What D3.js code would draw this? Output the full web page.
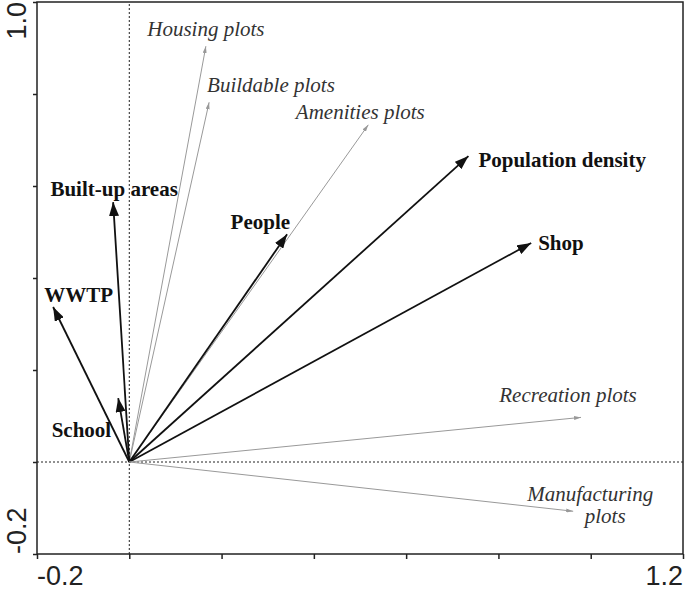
<!DOCTYPE html>
<html>
<head>
<meta charset="utf-8">
<script src="https://cdn.jsdelivr.net/npm/d3@7"></script>
<style>
  body { margin: 0; background: #fff; }
  svg { display: block; }
</style>
</head>
<body>
<svg id="biplot" width="685" height="590"></svg>
<script>
// arrow names, and their tip coordinates on the two ordination axes
const variables = ["Housing plots", "Buildable plots", "Amenities plots", "Population density", "Shop",
	"People", "Built-up areas", "WWTP", "School", "Recreation plots", "Manufacturing\nplots"];
const axis1 = [0.166, 0.173, 0.518, 0.735, 0.871, 0.342, -0.035, -0.165, -0.024, 0.979, 0.962];
const axis2 = [0.904, 0.782, 0.733, 0.665, 0.476, 0.495, 0.565, 0.337, 0.139, 0.097, -0.107];
// true = explanatory variable (bold black), false = land plot type (grey italic)
const explanatory = [false, false, false, true, true, true, true, true, true, false, false];
const xTicks = [-0.2, 0, 0.2, 0.4, 0.6, 0.8, 1.0, 1.2];
const yTicks = [-0.2, 0, 0.2, 0.4, 0.6, 0.8, 1.0];

// hand placement of labels round each arrow tip (px)
const labelPlace = {
	"Housing plots": [{ anchor: "middle", dx: 0, dy: -10 }],
	"Buildable plots": [{ anchor: "start", dx: -2, dy: -10 }],
	"Amenities plots": [{ anchor: "middle", dx: -8, dy: -6 }],
	"Population density": [{ anchor: "start", dx: 10, dy: 11 }],
	"Shop": [{ anchor: "start", dx: 7, dy: 7 }],
	"People": [{ anchor: "end", dx: 3, dy: -5 }],
	"Built-up areas": [{ anchor: "middle", dx: 1, dy: -6 }],
	"WWTP": [{ anchor: "start", dx: -9, dy: -5 }],
	"School": [{ anchor: "end", dx: -7, dy: 39 }],
	"Recreation plots": [{ anchor: "middle", dx: -13, dy: -15 }],
	"Manufacturing\nplots": [{ anchor: "middle", dx: 17, dy: -10 }, { anchor: "middle", dx: 32, dy: 12 }]
};

const svg = d3.select("svg#biplot");
const margin = { top: 2, right: 2, bottom: 36, left: 37 };
const width = +svg.attr("width");
const height = +svg.attr("height");

const x = d3.scaleLinear().domain([-0.2, 1.2]).range([margin.left, width - margin.right]);
const y = d3.scaleLinear().domain([-0.2, 1.0]).range([height - margin.bottom, margin.top]);

const defs = svg.append("defs");
function marker(id, len, wid, color) {
	defs.append("marker")
		.attr("id", id)
		.attr("markerUnits", "userSpaceOnUse")
		.attr("viewBox", `0 ${-wid / 2} ${len} ${wid}`)
		.attr("refX", len)
		.attr("refY", 0)
		.attr("markerWidth", len)
		.attr("markerHeight", wid)
		.attr("orient", "auto")
		.append("path")
		.attr("d", `M0,${-wid / 2}L${len},0L0,${wid / 2}Z`)
		.attr("fill", color);
}
marker("headBlack", 14, 10, "#111");
marker("headGrey", 7, 4, "#999");

// zero lines
svg.append("line")
	.attr("x1", x(0)).attr("x2", x(0))
	.attr("y1", y(-0.2)).attr("y2", y(1.0))
	.attr("stroke", "#222").attr("stroke-width", 1).attr("stroke-dasharray", "2,2");
svg.append("line")
	.attr("x1", x(-0.2)).attr("x2", x(1.2))
	.attr("y1", y(0)).attr("y2", y(0))
	.attr("stroke", "#222").attr("stroke-width", 1).attr("stroke-dasharray", "2,2");

// axes (ticks only, end labels drawn separately)
svg.append("g")
	.attr("transform", `translate(0,${y(-0.2)})`)
	.call(d3.axisBottom(x).tickValues(xTicks).tickSize(5).tickFormat(""))
	.call(g => g.select(".domain").remove())
	.selectAll("line").attr("stroke", "#222").attr("stroke-width", 1.5);
svg.append("g")
	.attr("transform", `translate(${x(-0.2)},0)`)
	.call(d3.axisLeft(y).tickValues(yTicks).tickSize(4).tickFormat(""))
	.call(g => g.select(".domain").remove())
	.selectAll("line").attr("stroke", "#222").attr("stroke-width", 1.5);

svg.append("rect")
	.attr("x", x(-0.2)).attr("y", y(1.0))
	.attr("width", x(1.2) - x(-0.2)).attr("height", y(-0.2) - y(1.0))
	.attr("fill", "none").attr("stroke", "#222").attr("stroke-width", 1.5);

const tickFont = "27px 'Liberation Sans', Arial, sans-serif";
svg.append("text").attr("x", x(-0.2)).attr("y", y(-0.2) + 31)
	.attr("text-anchor", "start").style("font", tickFont).attr("fill", "#222").text("-0.2");
svg.append("text").attr("x", x(1.2)).attr("y", y(-0.2) + 31)
	.attr("text-anchor", "end").style("font", tickFont).attr("fill", "#222").text("1.2");
svg.append("text").attr("transform", `translate(26,${y(-0.2)}) rotate(-90)`)
	.attr("text-anchor", "start").style("font", tickFont).attr("fill", "#222").text("-0.2");
svg.append("text").attr("transform", `translate(26,${y(1.0)}) rotate(-90)`)
	.attr("text-anchor", "end").style("font", tickFont).attr("fill", "#222").text("1.0");

// arrows
const arrows = svg.append("g").attr("id", "arrows");
variables.forEach(function (v, i) {
	const bold = explanatory[i];
	arrows.append("line")
		.attr("x1", x(0)).attr("y1", y(0))
		.attr("x2", x(axis1[i])).attr("y2", y(axis2[i]))
		.attr("stroke", bold ? "#111" : "#999")
		.attr("stroke-width", bold ? 1.8 : 1)
		.attr("marker-end", bold ? "url(#headBlack)" : "url(#headGrey)");
});

// labels
const labels = svg.append("g").attr("id", "labels");
variables.forEach(function (v, i) {
	const bold = explanatory[i];
	const lines = v.split("\n");
	lines.forEach(function (t, k) {
		const p = labelPlace[v][k];
		labels.append("text")
			.attr("x", x(axis1[i]) + p.dx)
			.attr("y", y(axis2[i]) + p.dy)
			.attr("text-anchor", p.anchor)
			.style("font-family", "'Liberation Serif', 'Times New Roman', serif")
			.style("font-size", bold ? "21px" : "21px")
			.style("font-weight", bold ? "bold" : "normal")
			.style("font-style", bold ? "normal" : "italic")
			.attr("fill", bold ? "#111" : "#333")
			.text(t);
	});
});
</script>
</body>
</html>
